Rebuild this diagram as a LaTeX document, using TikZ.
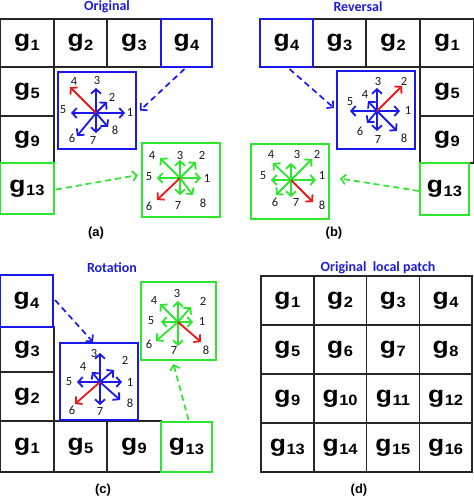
\documentclass[tikz,border=0pt]{standalone}
\usepackage{fontspec}
\setmainfont{Liberation Sans}
\newfontfamily\calib{Carlito}
\usetikzlibrary{arrows.meta,calc}
\definecolor{bl}{RGB}{25,25,235}
\definecolor{gr}{RGB}{45,230,45}
\definecolor{rd}{RGB}{235,25,25}
\definecolor{ttl}{RGB}{30,30,215}
\newcommand\gcell[1]{\scalebox{1.15}[1]{\fontsize{23}{23}\selectfont\bfseries g}\kern0.5pt\raisebox{-3.5pt}{\scalebox{1.1}[1]{\fontsize{15}{15}\selectfont\bfseries #1}}}
\tikzset{
  cell/.style={draw=black!85, line width=1.5pt, inner sep=0pt, outer sep=0pt},
  bbox/.style={draw=bl, line width=2.8pt, inner sep=0pt, outer sep=0pt},
  gbox/.style={draw=gr, line width=2.8pt, inner sep=0pt, outer sep=0pt},
  sarr/.style={line width=1.8pt, -{Straight Barb[length=4.5pt,width=10pt]}},
  num/.style={font=\calib\fontsize{12.5}{12.5}\selectfont, text=black!90, inner sep=0pt},
  ttlf/.style={font=\calib\bfseries\fontsize{14}{14}\selectfont, text=ttl, inner sep=0pt},
  plab/.style={font=\bfseries\fontsize{13}{13}\selectfont, inner sep=0pt},
  bdash/.style={draw=bl, line width=1.7pt, dash pattern=on 6pt off 4pt, -{Straight Barb[length=4.5pt,width=10pt]}},
  gdash/.style={draw=gr, line width=1.7pt, dash pattern=on 6pt off 4pt, -{Straight Barb[length=4.5pt,width=10pt]}},
}
\begin{document}
\begin{tikzpicture}[x=1pt,y=-1pt]
\useasboundingbox (0,0) rectangle (474,499);
% ---------------- (a) ----------------
\node[ttlf] (ta) at (107,7) {Original};
\node[cell, minimum width=54pt, minimum height=48pt] (a1) at (27,43) {\gcell{1}};
\node[cell, minimum width=53pt, minimum height=48pt] (a2) at (80.5,43) {\gcell{2}};
\node[cell, minimum width=54pt, minimum height=48pt] (a3) at (134,43) {\gcell{3}};
\node[cell, minimum width=54pt, minimum height=49pt] (a5) at (27,91.5) {\gcell{5}};
\node[cell, minimum width=54pt, minimum height=47pt] (a9) at (27,139.5) {\gcell{9}};
\node[bbox, minimum width=51pt, minimum height=48pt] (a4) at (186.5,43) {\gcell{4}};
\node[gbox, minimum width=54pt, minimum height=51pt] (a13) at (27,188.5) {\gcell{13}};
\node[bbox, minimum width=78pt, minimum height=77pt] (sba) at (97,110.5) {};
\node[gbox, minimum width=78pt, minimum height=74pt] (sga) at (181,180) {};
\coordinate (cba) at (96,113);
\foreach \dx/\dy/\cl in {29/0/bl,11/-11/bl,0/-25/bl,-25/0/bl,-19/23/bl,0/20/bl,12/14/bl,-26/-26/rd}
  \draw[sarr,\cl] (cba) -- ++(\dx,\dy);
\foreach \n/\lx/\ly in {1/130/112,2/112/97,3/97/80,4/74/81,5/63/110,6/72/138,7/93/140,8/115/130}
  \node[num] (nba\n) at (\lx,\ly) {\n};
\coordinate (cga) at (180,178);
\foreach \dx/\dy/\cl in {21/0/gr,16/-16/gr,0/-18/gr,-20/-20/gr,-23/0/gr,0/17/gr,13/17/gr,-23/22/rd}
  \draw[sarr,\cl] (cga) -- ++(\dx,\dy);
\foreach \n/\lx/\ly in {1/207/178,2/202/155,3/180/155,4/152/155,5/149/177,6/149/206,7/178/205,8/203/203}
  \node[num] (nga\n) at (\lx,\ly) {\n};
\draw[bdash] ([xshift=-2pt,yshift=-2pt]a4.south) -- ([xshift=4pt]sba.east);
\draw[gdash] ([xshift=2pt,yshift=-1pt]a13.east) -- ([xshift=-4pt,yshift=5pt]sga.west);
\node[plab] (la) at (96,233) {(a)};
% ---------------- (b) ----------------
\node[ttlf] (tb) at (358,7) {Reversal};
\node[cell, minimum width=53pt, minimum height=48pt] (b3) at (339.5,43) {\gcell{3}};
\node[cell, minimum width=54pt, minimum height=48pt] (b2) at (393,43) {\gcell{2}};
\node[cell, minimum width=54pt, minimum height=48pt] (b1) at (447,43) {\gcell{1}};
\node[cell, minimum width=54pt, minimum height=49pt] (b5) at (447,91.5) {\gcell{5}};
\node[cell, minimum width=54pt, minimum height=47pt] (b9) at (447,139.5) {\gcell{9}};
\node[bbox, minimum width=53pt, minimum height=48pt] (b4) at (286.5,43) {\gcell{4}};
\node[gbox, minimum width=49pt, minimum height=52pt] (b13) at (444.5,189) {\gcell{13}};
\node[bbox, minimum width=78pt, minimum height=78pt] (sbb) at (376,110) {};
\node[gbox, minimum width=78pt, minimum height=75pt] (sgb) at (290,181.5) {};
\coordinate (cbb) at (377,111);
\foreach \dx/\dy/\cl in {23/0/bl,0/-23/bl,-9/-10/bl,-27/0/bl,-10/12/bl,0/20/bl,20/20/bl,25/-25/rd}
  \draw[sarr,\cl] (cbb) -- ++(\dx,\dy);
\foreach \n/\lx/\ly in {1/408/110,2/404/81,3/378/81,4/365/94,5/350/102,6/360/131,7/378/139,8/404/138}
  \node[num] (nbb\n) at (\lx,\ly) {\n};
\coordinate (cgb) at (291,180);
\foreach \dx/\dy/\cl in {25/0/gr,21/-21/gr,0/-17/gr,-18/-17/gr,-20/0/gr,-15/15/gr,0/17/gr,22/22/rd}
  \draw[sarr,\cl] (cgb) -- ++(\dx,\dy);
\foreach \n/\lx/\ly in {1/322/175,2/317/154,3/297/154,4/271/154,5/263/176,6/275/202,7/296/202,8/322/205}
  \node[num] (ngb\n) at (\lx,\ly) {\n};
\draw[bdash] ([xshift=3pt,yshift=-2pt]b4.south) -- ([xshift=-3pt,yshift=2pt]sbb.west);
\draw[gdash] ([xshift=-1pt,yshift=-2pt]b13.west) -- ([xshift=11pt,yshift=3pt]sgb.east);
\node[plab] (lb) at (334,233) {(b)};
% ---------------- (c) ----------------
\node[ttlf] (tc) at (112,268) {Rotation};
\node[cell, minimum width=54pt, minimum height=45pt] (c3) at (27,349.5) {\gcell{3}};
\node[cell, minimum width=54pt, minimum height=49pt] (c2) at (27,396.5) {\gcell{2}};
\node[cell, minimum width=54pt, minimum height=51pt] (c1) at (27,446.5) {\gcell{1}};
\node[cell, minimum width=53pt, minimum height=51pt] (c5) at (80.5,446.5) {\gcell{5}};
\node[cell, minimum width=54pt, minimum height=51pt] (c9) at (134,446.5) {\gcell{9}};
\node[bbox, minimum width=53pt, minimum height=52pt] (c4) at (26.5,301) {\gcell{4}};
\node[gbox, minimum width=51pt, minimum height=50pt] (c13) at (186.5,447) {\gcell{13}};
\node[bbox, minimum width=78pt, minimum height=77pt] (sbc) at (99,381.5) {};
\node[gbox, minimum width=75pt, minimum height=78pt] (sgc) at (178.5,321) {};
\coordinate (cbc) at (100,382);
\foreach \dx/\dy/\cl in {22/0/bl,14/-12/bl,0/-29/bl,-8/-10/bl,-23/0/bl,0/23/bl,20/18/bl,-25/22/rd}
  \draw[sarr,\cl] (cbc) -- ++(\dx,\dy);
\foreach \n/\lx/\ly in {1/130/382,2/125/360,3/94/353,4/83/366,5/69/382,6/72/410,7/100/411,8/130/403}
  \node[num] (nbc\n) at (\lx,\ly) {\n};
\coordinate (cgc) at (178,322);
\foreach \dx/\dy/\cl in {15/0/gr,13/-15/gr,0/-21/gr,-18/-18/gr,-17/0/gr,-22/19/gr,0/24/gr,23/20/rd}
  \draw[sarr,\cl] (cgc) -- ++(\dx,\dy);
\foreach \n/\lx/\ly in {1/202/321,2/203/301,3/177/293,4/154/300,5/151/321,6/149/344,7/174/350,8/206/350}
  \node[num] (ngc\n) at (\lx,\ly) {\n};
\draw[bdash] ([xshift=2pt,yshift=1pt]c4.east) -- ([xshift=-6pt,yshift=1pt]sbc.north);
\draw[gdash] ([xshift=2pt,yshift=2pt]c13.north) -- ([xshift=-5pt,yshift=-4pt]sgc.south);
\node[plab] (lc) at (103,490) {(c)};
% ---------------- (d) ----------------
\node[ttlf] (td) at (378,268) {Original\ \ local patch};
\foreach \r in {0,1,2,3}
  \foreach \c in {0,1,2,3}{
    \pgfmathtruncatemacro\k{4*\r+\c+1}
    \node[cell, minimum width=52.75pt, minimum height=49pt] (d\k) at (287.4+52.75*\c,300.5+49*\r) {\gcell{\k}};
  }
\node[plab] (ld) at (359,490) {(d)};
\end{tikzpicture}
\end{document}
